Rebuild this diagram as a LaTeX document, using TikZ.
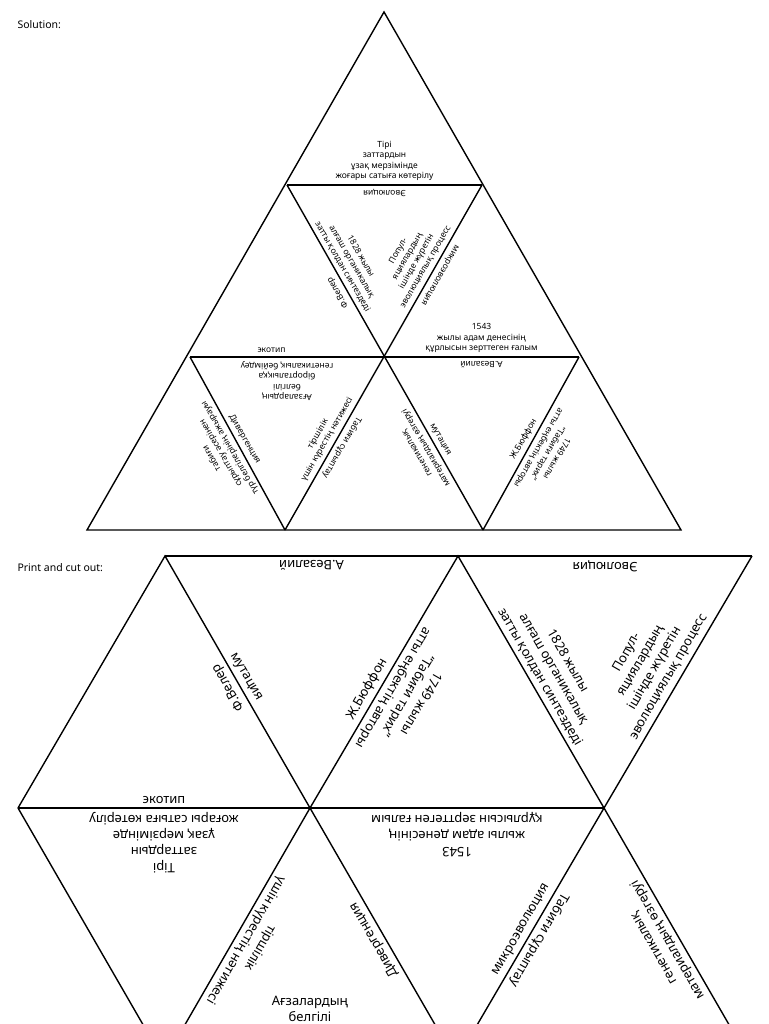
\documentclass[tikz,border=0pt]{standalone}
\usepackage{fontspec}
\setmainfont{Noto Sans}
\usetikzlibrary{calc}

\tikzset{
    edge/.style={line width=1.4pt, line join=miter},
    small/.style={font=\fontsize{8.5}{10.5}\selectfont, align=center, inner sep=1pt},
    big/.style={font=\fontsize{13}{16}\selectfont, align=center, inner sep=1pt},
}
% text along an edge: from, to, position, angle, name, style, text
\newcommand{\edgelabel}[7]{%
    \node[#6, rotate=#4, anchor=south] (#5) at ($($(#1)!#3!(#2)$)+(#4+90:3)$) {#7};
}

\begin{document}
\begin{tikzpicture}[x=1pt, y=1pt]
\useasboundingbox (0,0) rectangle (768,1024);
\clip (0,0) rectangle (768,1024);

\node[font=\fontsize{10.5}{12}\selectfont, anchor=west] (sol) at (14,999) {Solution:};
\node[font=\fontsize{10.5}{12}\selectfont, anchor=west] (cut) at (14,456) {Print and cut out:};

% Solution triangle
\coordinate (A) at (384,1012);
\coordinate (B1) at (287,839);
\coordinate (B2) at (482,839);
\coordinate (C1) at (190,667);
\coordinate (C2) at (384,667);
\coordinate (C3) at (579,667);
\coordinate (D1) at (87,494);
\coordinate (D2) at (285,494);
\coordinate (D3) at (483,494);
\coordinate (D4) at (681,494);

\draw[edge] (A) -- (D1) -- (D4) -- cycle;
\draw[edge] (B1) -- (B2);
\draw[edge] (C1) -- (C3);
\draw[edge] (B1) -- (D3);
\draw[edge] (B2) -- (D2);
\draw[edge] (C1) -- (D2);
\draw[edge] (C3) -- (D3);

\edgelabel{B1}{B2}{0.5}{0}{s1}{small}{Тірі\\заттардын\\ұзақ мерзімінде\\жоғары сатыға көтерілу}
\edgelabel{C1}{C2}{0.42}{0}{s2}{small}{экотип}
\edgelabel{C2}{B1}{0.4}{120}{s3}{small}{Ф.Велер}
\edgelabel{B2}{B1}{0.5}{180}{s4}{small}{Эволюция}
\edgelabel{B1}{C2}{0.5}{-60}{s5}{small}{1828 жылы\\алғаш органикалық\\затты қолдан синтездеді}
\edgelabel{C2}{B2}{0.5}{60}{s6}{small}{Попул-\\яциялардың\\ішінде жүретін\\эволюциялық процесс}
\edgelabel{B2}{C2}{0.5}{-120}{s7}{small}{микроэволюция}
\edgelabel{C2}{C3}{0.5}{0}{s8}{small}{1543\\жылы адам денесінің\\құрлысын зерттеген ғалым}
\edgelabel{D2}{C1}{0.5}{120}{s9}{small}{табиғи\\сұрыптау әсерінен\\түр белгілерінің ажырауы}
\edgelabel{C2}{C1}{0.5}{180}{s10}{small}{Ағзалардың\\белгілі\\бірорталыққа\\генетикалық бейімдеу}
\edgelabel{C1}{D2}{0.5}{-60}{s11}{small}{Дивергенция}
\edgelabel{D2}{C2}{0.5}{60}{s12}{small}{тіршілік\\үшін күрестің нәтижесі}
\edgelabel{C2}{D2}{0.5}{-120}{s13}{small}{Табиғи сұрыптау}
\edgelabel{D3}{C2}{0.5}{120}{s14}{small}{генетикалық\\материалдың өзгеруі}
\edgelabel{C3}{C2}{0.5}{180}{s15}{small}{А.Везалий}
\edgelabel{C2}{D3}{0.5}{-60}{s16}{small}{мутация}
\edgelabel{D3}{C3}{0.5}{60}{s17}{small}{Ж.Бюффон}
\edgelabel{C3}{D3}{0.5}{-120}{s18}{small}{1749 жылы\\“Табиғи тарих”\\атты еңбектің авторы}

% Cut-out strip
\coordinate (P1) at (165,468);
\coordinate (P2) at (458,468);
\coordinate (P3) at (752,468);
\coordinate (Q1) at (18,216);
\coordinate (Q2) at (310,216);
\coordinate (Q3) at (604,216);
\coordinate (R1) at (164,-37);
\coordinate (R2) at (456,-37);
\coordinate (R3) at (750,-37);

\draw[edge] (P1) -- (P3);
\draw[edge] (Q1) -- (Q3);
\draw[edge] (Q1) -- (P1) -- (Q2) -- (P2) -- (Q3) -- (P3);
\draw[edge] (Q1) -- (R1) -- (Q2) -- (R2) -- (Q3) -- (R3);

\edgelabel{Q1}{Q2}{0.5}{0}{c1}{big}{экотип}
\edgelabel{Q2}{P1}{0.5}{120}{c2}{big}{Ф.Велер}
\edgelabel{P2}{P1}{0.5}{180}{c3}{big}{А.Везалий}
\edgelabel{P1}{Q2}{0.5}{-60}{c4}{big}{мутация}
\edgelabel{Q2}{P2}{0.45}{60}{c5}{big}{Ж.Бюффон}
\edgelabel{P2}{Q2}{0.5}{-120}{c6}{big}{1749 жылы\\“Табиғи тарих”\\атты еңбектің авторы}
\edgelabel{P3}{P2}{0.5}{180}{c7}{big}{Эволюция}
\edgelabel{P2}{Q3}{0.5}{-60}{c8}{big}{1828 жылы\\алғаш органикалық\\затты қолдан синтездеді}
\edgelabel{Q3}{P3}{0.5}{60}{c9}{big}{Попул-\\яциялардың\\ішінде жүретін\\эволюциялық процесс}
\edgelabel{Q2}{Q1}{0.5}{180}{c10}{big}{Тірі\\заттардын\\ұзақ мерзімінде\\жоғары сатыға көтерілу}
\edgelabel{Q2}{R1}{0.5}{-120}{c11}{big}{тіршілік\\үшін күрестің нәтижесі}
\edgelabel{R1}{R2}{0.5}{0}{c12}{big}{Ағзалардың\\белгілі\\бірорталыққа\\генетикалық бейімдеу}
\edgelabel{R2}{Q2}{0.5}{120}{c13}{big}{Дивергенция}
\edgelabel{Q3}{Q2}{0.5}{180}{c14}{big}{1543\\жылы адам денесінің\\құрлысын зерттеген ғалым}
\edgelabel{R2}{Q3}{0.5}{60}{c15}{big}{микроэволюция}
\edgelabel{Q3}{R2}{0.5}{-120}{c16}{big}{Табиғи сұрыптау}
\edgelabel{R3}{Q3}{0.5}{120}{c17}{big}{генетикалық\\материалдың өзгеруі}

\end{tikzpicture}
\end{document}
